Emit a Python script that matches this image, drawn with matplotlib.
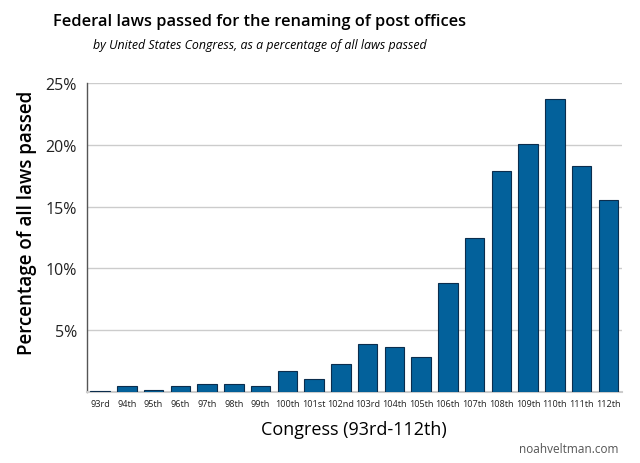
import matplotlib
matplotlib.use("Agg")
import matplotlib.pyplot as plt
from matplotlib.ticker import FixedLocator

congresses = ["93rd", "94th", "95th", "96th", "97th", "98th", "99th", "100th", "101st", "102nd",
              "103rd", "104th", "105th", "106th", "107th", "108th", "109th", "110th", "111th", "112th"]
percent = [0.05, 0.5, 0.15, 0.46, 0.62, 0.67, 0.46, 1.68, 1.05, 2.24,
           3.88, 3.62, 2.8, 8.8, 12.46, 17.86, 20.1, 23.7, 18.26, 15.56]
yticks = [5, 10, 15, 20, 25]
ytick_labels = ["5%", "10%", "15%", "20%", "25%"]

plt.rcParams['font.family'] = ['Open Sans', 'DejaVu Sans']

fig = plt.figure(figsize=(6.4, 4.64), dpi=100)
ax = fig.add_axes([0.1355, 0.153, 0.836, 0.666])

x = list(range(len(congresses)))
ax.bar(x, percent, width=0.73, color="#03619b", edgecolor="#0b2d4d", linewidth=0.8, zorder=3)

ax.set_xlim(-0.5, len(congresses) - 0.5)
ax.set_ylim(0, 25)
ax.yaxis.set_major_locator(FixedLocator(yticks))
ax.set_yticklabels(ytick_labels, fontsize=11.5, color="#222222")
ax.set_xticks(x)
ax.set_xticklabels(congresses, fontsize=6.6, color="#222222")
ax.tick_params(axis='both', length=0)
ax.tick_params(axis='y', pad=7)
ax.tick_params(axis='x', pad=5)

ax.grid(axis='y', color="#cccccc", linewidth=1, zorder=0)
for s in ["top", "right"]:
    ax.spines[s].set_visible(False)
ax.spines["left"].set_color("#555555")
ax.spines["left"].set_linewidth(1)
ax.spines["bottom"].set_color("#cccccc")
ax.spines["bottom"].set_linewidth(1.5)

ax.set_ylabel("Percentage of all laws passed", fontsize=13.5, fontweight='semibold')
ax.yaxis.set_label_coords(-0.093, 0.552)
ax.set_xlabel("Congress (93rd-112th)", fontsize=13, labelpad=9)

fig.text(0.406, 1 - 22 / 464, "Federal laws passed for the renaming of post offices",
         ha="center", va="center", fontsize=11.8, fontweight='semibold')
fig.text(0.406, 1 - 45 / 464, "by United States Congress, as a percentage of all laws passed",
         ha="center", va="center", fontsize=8.9, style="italic")
fig.text(619 / 640, 1 - 450 / 464, "noahveltman.com", ha="right", va="center",
         fontsize=8.5, color="#555555")

fig.savefig("out.png", dpi=100)
